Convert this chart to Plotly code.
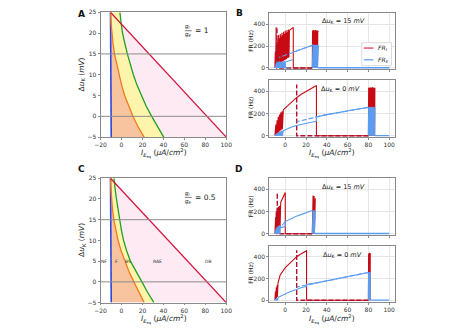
import plotly.graph_objects as go

W, H = 474, 333

# ---------------- Panels A / C : phase diagrams ----------------
du_levels = [-5, -2.5, 0, 2.5, 5, 7.5, 10, 12.5, 15, 17.5, 20, 22.5, 25]
blue_x = [-9.8, -10.5]
blue_y = [-5, 25]
red_x = [100, -10.5]
red_y = [-5, 25]
A_orange_x = [21.6, 15.8, 10.9, 6.6, 3.0, 0.1, -2.4, -4.7, -6.7, -8.1, -9.3, -10.0, -10.5]
A_green_x = [40.3, 34.2, 28.8, 23.5, 18.8, 14.8, 11.3, 8.3, 5.6, 3.2, 1.0, -0.4, -1.5]
C_orange_x = [21.6, 16.4, 11.8, 7.1, 3.0, -0.4, -3.3, -5.5, -7.3, -8.6, -9.6, -10.1, -10.5]
C_green_x = [31.0, 24.8, 19.5, 13.7, 8.5, 4.9, 2.0, -0.1, -1.8, -3.4, -4.8, -6.1, -7.2]
hlines = [0, 15]
region_labels = ["NF", "F", "BS", "RAE", "DB"]
region_x = [-17, -5, 6, 34, 83]
region_y = [5, 5, 5, 5, 5]
ratio_labels = ["1", "0.5"]

# ---------------- Panels B / D : firing rates ----------------
# B top (g_I/g_E = 1, du = 15 mV)
bt_burst_x = [-10, -9.2, -8.4, -7.6, -6.8, -6, -5.2, -4.4, -3.6, -2.8, -2, -1.2, -0.4, 0.4, 1.2, 2, 2.8, 3.6]
bt_red_hi = [150, 370, 210, 260, 300, 270, 310, 290, 320, 300, 330, 310, 340, 320, 345, 330, 350, 340]
bt_red_lo = [0, 10, 20, 30, 30, 40, 40, 50, 50, 60, 60, 70, 70, 80, 80, 90, 90, 100]
bt_blue_hi = [20, 40, 60, 50, 55, 60, 50, 62, 55, 60, 50, 60, 55, 0, 0, 0, 0, 0]
bt_red_x = [3.6, 7.7, 7.7, 26]
bt_red_y = [340, 370, 0, 0]
bt_red_dash_x = [26, -8, -8]
bt_red_dash_y = [0, 0, 370]
bt_blue_low_x = [-1.5, 7.7]
bt_blue_low_y = [50, 78]
bt_blue_up_x = [7.7, 12, 17, 22, 27]
bt_blue_up_y = [145, 160, 175, 192, 210]
bt_blue_dash_x = [27, 20, 12, 5, 0, -6]
bt_blue_dash_y = [210, 187, 160, 135, 120, 95]
bt_block_x = [26, 26.5, 27, 27.5, 28, 28.5, 29, 29.5, 30, 30.5, 31, 31.6]
bt_block_red = [340, 335, 345, 330, 340, 335, 345, 330, 340, 335, 340, 330]
bt_block_blue = [200, 210, 205, 212, 208, 210, 206, 212, 209, 211, 207, 210]
bt_tail_x = [31.6, 100]
bt_tail_y = [2, 2]

# B bottom (g_I/g_E = 1, du = 0 mV)
bb_burst_x = [-10, -9.4, -8.8, -8.2, -7.6, -7, -6.4, -5.8, -5.2, -4.6, -4, -3.4, -2.8, -2.2]
bb_red_hi = [60, 100, 120, 140, 150, 170, 160, 190, 200, 210, 200, 220, 225, 230]
bb_red_lo = [0, 5, 10, 15, 20, 25, 30, 35, 40, 45, 50, 55, 60, 65]
bb_blue_hi = [5, 10, 15, 20, 25, 30, 30, 35, 40, 40, 45, 45, 50, 50]
bb_red_x = [-2.2, 0, 5, 10, 15, 20, 25, 30, 30, 80]
bb_red_y = [230, 250, 295, 335, 370, 400, 428, 452, 0, 0]
bb_red_dash_x = [80, 11, 11]
bb_red_dash_y = [0, 0, 460]
bb_blue_x = [-2.2, 0, 5, 10, 15, 20, 25, 30, 30, 40, 50, 60, 70, 80]
bb_blue_y = [45, 55, 75, 90, 103, 113, 122, 130, 170, 190, 208, 224, 240, 255]
bb_blue_dash_x = [80, 60, 40, 30, 20, 11]
bb_blue_dash_y = [255, 224, 190, 170, 148, 125]
bb_block_x = [80, 80.5, 81, 81.5, 82, 82.5, 83, 83.5, 84, 84.5, 85, 85.5, 86]
bb_block_red = [430, 425, 432, 428, 430, 426, 432, 427, 430, 428, 431, 426, 430]
bb_block_blue = [255, 250, 256, 252, 255, 251, 256, 252, 255, 250, 256, 252, 255]
bb_tail_x = [86, 100]
bb_tail_y = [2, 2]

# D top (g_I/g_E = 0.5, du = 15 mV)
dt_burst_x = [-10, -9.5, -9, -8.5, -8, -7.5, -7, -6.5, -6, -5.5, -5, -4.6]
dt_red_hi = [80, 150, 200, 180, 220, 200, 240, 230, 250, 240, 260, 280]
dt_red_lo = [0, 5, 10, 15, 20, 25, 30, 35, 40, 45, 50, 55]
dt_blue_hi = [10, 30, 50, 40, 60, 50, 70, 60, 75, 65, 70, 60]
dt_red_x = [-4.6, 0, 0, 26]
dt_red_y = [280, 372, 0, 0]
dt_red_dash_x = [26, -7.7, -7.7]
dt_red_dash_y = [0, 0, 365]
dt_blue_x = [-4.6, 0, 0, 5, 10, 15, 20, 26]
dt_blue_y = [55, 65, 110, 135, 155, 172, 188, 210]
dt_blue_dash_x = [0, -4, -7.7]
dt_blue_dash_y = [110, 70, 25]
dt_block_x = [26, 26.5, 27, 27.5, 28, 28.6]
dt_block_red = [330, 345, 320, 340, 300, 320]
dt_block_blue = [200, 210, 205, 212, 208, 210]
dt_tail_x = [28.6, 100]
dt_tail_y = [2, 2]

# D bottom (g_I/g_E = 0.5, du = 0 mV)
db_burst_x = [-10, -9.6, -9.2, -8.8, -8.4, -8, -7.6, -7.2]
db_red_hi = [40, 80, 100, 120, 110, 140, 130, 150]
db_red_lo = [0, 5, 10, 15, 20, 25, 30, 35]
db_blue_hi = [3, 8, 10, 15, 12, 18, 20, 22]
db_red_x = [-7.2, -5, 0, 5, 11, 15, 20.5, 20.5, 80]
db_red_y = [150, 230, 300, 345, 400, 425, 455, 0, 0]
db_red_dash_x = [80, 11, 11]
db_red_dash_y = [0, 0, 460]
db_blue_x = [-7.2, -5, 0, 5, 11, 15, 20.5, 20.5, 30, 40, 50, 60, 70, 80]
db_blue_y = [25, 35, 60, 80, 100, 115, 128, 145, 160, 178, 196, 213, 232, 255]
db_blue_dash_x = [80, 50, 20.5, 11]
db_blue_dash_y = [255, 196, 145, 122]
db_block_x = [80, 80.4, 80.8, 81.2, 81.6, 82]
db_block_red = [430, 420, 435, 425, 430, 420]
db_block_blue = [255, 250, 258, 252, 256, 250]
db_tail_x = [82, 100]
db_tail_y = [2, 2]

du_titles = ["15", "0", "15", "0"]

# ---------------- styling ----------------
FONT = "DejaVu Sans"
C_BLUE = "#2f45e0"
C_ORANGE = "#f07a1a"
C_GREEN = "#1fa01f"
C_RED = "#d4103c"
F_PINK = "#fdeaf3"
F_YELLOW = "#fff4ac"
F_ORANGE = "#f8c4a0"
R_FR = "#c80a14"
R_DASH = "#b0102e"
B_FR = "#5a9cf0"
DASH = "5px,2px"


def px2paper(px, py):
    return px / W, 1 - py / H


fig = go.Figure()


def line(x, y, ax, color, width=1.2, dash=None):
    xa, ya = ax
    fig.add_trace(go.Scatter(x=x, y=y, mode="lines", xaxis=xa, yaxis=ya,
                             line=dict(color=color, width=width, dash=dash),
                             hoverinfo="skip", showlegend=False))


def poly(x, y, ax, color):
    xa, ya = ax
    fig.add_trace(go.Scatter(x=x, y=y, mode="lines", fill="toself", fillcolor=color,
                             xaxis=xa, yaxis=ya, line=dict(width=0, color=color),
                             hoverinfo="skip", showlegend=False))


def zigzag(xs, lo, hi):
    zx, zy = [], []
    for i in range(len(xs)):
        if i + 1 < len(xs):
            nxt = xs[i + 1]
        else:
            nxt = xs[i] + (xs[i] - xs[i - 1])
        zx += [xs[i], (xs[i] + nxt) / 2]
        zy += [lo[i], hi[i]]
    return zx, zy


# phase panels
for ax, ox, gx in [(("x", "y"), A_orange_x, A_green_x), (("x2", "y2"), C_orange_x, C_green_x)]:
    poly(blue_x + red_x[::-1], blue_y + red_y[::-1], ax, F_PINK)
    poly(ox + gx[::-1], du_levels + du_levels[::-1], ax, F_YELLOW)
    poly(blue_x + ox[::-1], blue_y + du_levels[::-1], ax, F_ORANGE)
    line(blue_x, blue_y, ax, C_BLUE, 1.6)
    line(ox, du_levels, ax, C_ORANGE, 1.3)
    line(gx, du_levels, ax, C_GREEN, 1.3)
    line(red_x, red_y, ax, C_RED, 1.3)

# FR panels
fr_sets = [
    (("x3", "y3"), bt_burst_x, bt_red_lo, bt_red_hi, bt_blue_hi, bt_red_x, bt_red_y, bt_red_dash_x, bt_red_dash_y,
     bt_block_x, bt_block_red, bt_block_blue, bt_tail_x, bt_tail_y),
    (("x4", "y4"), bb_burst_x, bb_red_lo, bb_red_hi, bb_blue_hi, bb_red_x, bb_red_y, bb_red_dash_x, bb_red_dash_y,
     bb_block_x, bb_block_red, bb_block_blue, bb_tail_x, bb_tail_y),
    (("x5", "y5"), dt_burst_x, dt_red_lo, dt_red_hi, dt_blue_hi, dt_red_x, dt_red_y, dt_red_dash_x, dt_red_dash_y,
     dt_block_x, dt_block_red, dt_block_blue, dt_tail_x, dt_tail_y),
    (("x6", "y6"), db_burst_x, db_red_lo, db_red_hi, db_blue_hi, db_red_x, db_red_y, db_red_dash_x, db_red_dash_y,
     db_block_x, db_block_red, db_block_blue, db_tail_x, db_tail_y),
]
blue_extra = [
    [(bt_blue_low_x, bt_blue_low_y, None), (bt_blue_up_x, bt_blue_up_y, None), (bt_blue_dash_x, bt_blue_dash_y, DASH)],
    [(bb_blue_x, bb_blue_y, None), (bb_blue_dash_x, bb_blue_dash_y, DASH)],
    [(dt_blue_x, dt_blue_y, None), (dt_blue_dash_x, dt_blue_dash_y, DASH)],
    [(db_blue_x, db_blue_y, None), (db_blue_dash_x, db_blue_dash_y, DASH)],
]

for k, (ax, bx, rlo, rhi, bhi, rx, ry, rdx, rdy, kx, kr, kb, tx, ty) in enumerate(fr_sets):
    zx, zy = zigzag(bx, rlo, rhi)
    line(zx, zy, ax, R_FR, 1.1)
    line(rx, ry, ax, R_FR, 1.1)
    zx, zy = zigzag(kx, [0] * len(kx), kr)
    line(zx, zy, ax, R_FR, 1.1)
    line(rdx, rdy, ax, R_DASH, 1.4, DASH)
    zx, zy = zigzag(bx, [0] * len(bx), bhi)
    line(zx, zy, ax, B_FR, 1.1)
    zx, zy = zigzag(kx, [0] * len(kx), kb)
    line(zx, zy, ax, B_FR, 1.1)
    for (ex, ey, d) in blue_extra[k]:
        line(ex, ey, ax, B_FR, 1.1, d)
    line(tx, ty, ax, B_FR, 1.3)

# ---------------- axes ----------------
tickfont = dict(size=6, color="#333", family=FONT)
frame = dict(showline=True, linecolor="#8a8a8a", linewidth=0.8, mirror=True, ticks="outside",
             ticklen=2, tickcolor="#8a8a8a", tickfont=tickfont, zeroline=False)


def dom(p0, p1):
    return [p0 / W, p1 / W]


def vdom(top, bottom):
    return [1 - bottom / H, 1 - top / H]


phase_x = dict(range=[-20, 100], tickvals=[-20, 0, 20, 40, 60, 80, 100], showgrid=False, **frame)
phase_y = dict(range=[-5, 25], tickvals=[-5, 0, 5, 10, 15, 20, 25], showgrid=False, **frame)
fr_x = dict(range=[-15.5, 105.5], tickvals=[0, 20, 40, 60, 80, 100], showgrid=True,
            gridcolor="#e6e6e6", gridwidth=0.6, **frame)
fr_y = dict(range=[-12, 500], tickvals=[0, 200, 400], showgrid=True,
            gridcolor="#e6e6e6", gridwidth=0.6, **frame)

layout = dict(
    width=W, height=H, margin=dict(l=0, r=0, t=0, b=0),
    paper_bgcolor="white", plot_bgcolor="white", showlegend=False,
    font=dict(family=FONT, color="#222"),
    xaxis=dict(domain=dom(97, 226), anchor="y", **phase_x),
    yaxis=dict(domain=vdom(8.5, 136), anchor="x", **phase_y),
    xaxis2=dict(domain=dom(97, 226), anchor="y2", **phase_x),
    yaxis2=dict(domain=vdom(178, 305), anchor="x2", **phase_y),
    xaxis3=dict(domain=dom(270, 399), anchor="y3", showticklabels=False, **fr_x),
    yaxis3=dict(domain=vdom(9.3, 66.7), anchor="x3", **fr_y),
    xaxis4=dict(domain=dom(270, 399), anchor="y4", **fr_x),
    yaxis4=dict(domain=vdom(77.7, 136), anchor="x4", **fr_y),
    xaxis5=dict(domain=dom(270, 399), anchor="y5", showticklabels=False, **fr_x),
    yaxis5=dict(domain=vdom(178, 236), anchor="x5", **fr_y),
    xaxis6=dict(domain=dom(270, 399), anchor="y6", **fr_x),
    yaxis6=dict(domain=vdom(247, 304), anchor="x6", **fr_y),
)
fig.update_layout(**layout)

shapes = []
for xa, ya in [("x", "y"), ("x2", "y2")]:
    for hv in hlines:
        shapes.append(dict(type="line", xref=xa + " domain", yref=ya, x0=0, x1=1, y0=hv, y1=hv,
                           line=dict(color="#8c8c8c", width=1), layer="above"))

annotations = []


def pann(text, px, py, size, xanchor="center", yanchor="middle", angle=0, color="#222"):
    x, y = px2paper(px, py)
    annotations.append(dict(text=text, x=x, y=y, xref="paper", yref="paper", showarrow=False,
                            xanchor=xanchor, yanchor=yanchor, textangle=angle,
                            font=dict(size=size, family=FONT, color=color)))


for lab, px, py in [("A", 77, 10), ("B", 240, 9), ("C", 77, 169), ("D", 239, 169)]:
    pann("<b>%s</b>" % lab, px, py, 9, color="#111")

xtitle = "<i>I</i><sub><i>E</i><sub>eq</sub></sub> (<i>μA</i>/<i>cm</i><sup>2</sup>)"
pann(xtitle, 162, 152, 7.5)
pann(xtitle, 162, 322, 7.5)
pann(xtitle, 334, 152, 7.5)
pann(xtitle, 334, 322, 7.5)

ytitle = "Δ<i>u</i><sub>K</sub> (<i>mV</i>)"
pann(ytitle, 78, 72, 7.5, angle=-90)
pann(ytitle, 78, 241, 7.5, angle=-90)
for cy in [38, 106, 207, 275]:
    pann("FR (Hz)", 251, cy, 6, angle=-90)

for (rl, cy) in [(ratio_labels[0], 27.3), (ratio_labels[1], 197.5)]:
    pann("<i>g</i><sub><i>I</i></sub>", 187, cy - 4, 5.5)
    pann("<i>g</i><sub><i>E</i></sub>", 187, cy + 4.2, 5.5)
    x0, y0 = px2paper(183.5, cy)
    x1, _ = px2paper(190.5, cy)
    shapes.append(dict(type="line", xref="paper", yref="paper", x0=x0, x1=x1, y0=y0, y1=y0,
                       line=dict(color="#222", width=0.6)))
    pann("= " + rl, 192, cy, 7.5, xanchor="left")

for lab, rx, ry in zip(region_labels, region_x, region_y):
    annotations.append(dict(text=lab, x=rx, y=ry, xref="x2", yref="y2", showarrow=False,
                            font=dict(size=4.5, family=FONT, color="#333")))

for txt, (px, py) in zip(du_titles, [(346, 17), (343, 87), (346, 187), (345, 256)]):
    pann("Δ<i>u</i><sub>K</sub> = %s <i>mV</i>" % txt, px, py, 6.5)

lx0, ly0 = px2paper(365, 39.5)
lx1, ly1 = px2paper(395.5, 63)
shapes.append(dict(type="rect", xref="paper", yref="paper", x0=lx0, x1=lx1, y0=ly1, y1=ly0,
                   fillcolor="rgba(255,255,255,0.9)", line=dict(color="#d0d0d0", width=0.8)))
for col, ly, lab in [("#dd3048", 45, "<i>FR</i><sub><i>I</i></sub>"), (B_FR, 57, "<i>FR</i><sub><i>E</i></sub>")]:
    a0, b0 = px2paper(367, ly)
    a1, _ = px2paper(377, ly)
    shapes.append(dict(type="line", xref="paper", yref="paper", x0=a0, x1=a1, y0=b0, y1=b0,
                       line=dict(color=col, width=1.2)))
    pann(lab, 380, ly, 6, xanchor="left")

fig.update_layout(shapes=shapes, annotations=annotations)
fig.write_html("out.html")
